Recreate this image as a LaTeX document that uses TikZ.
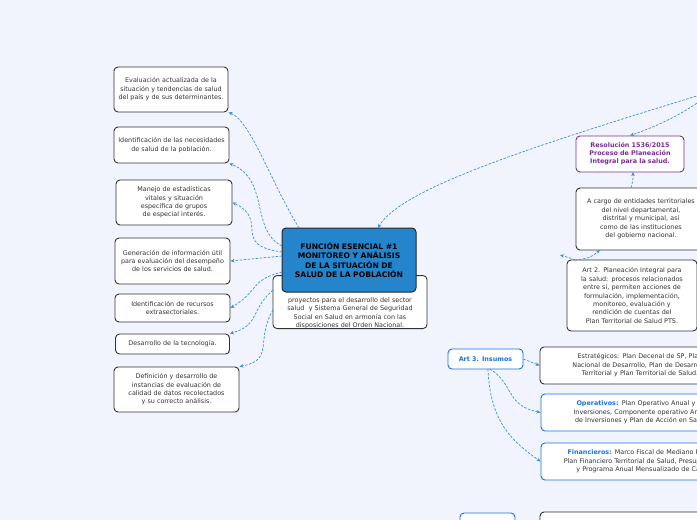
\documentclass[tikz,border=0pt]{standalone}
\usepackage{fontspec}
\setmainfont{DejaVu Sans}
\usetikzlibrary{arrows.meta}
\definecolor{bg}{HTML}{F1F4FD}
\definecolor{ln}{HTML}{3A8BE0}
\definecolor{cen}{HTML}{2585CC}
\definecolor{pur}{HTML}{7A2E96}
\definecolor{blu}{HTML}{1A73E0}
\begin{document}
\begin{tikzpicture}[x=1pt,y=-1pt,
  every node/.style={execute at begin node={\hyphenpenalty=10000\relax\exhyphenpenalty=10000\relax}},
  box/.style={draw=black!80,fill=white,rounded corners=4pt,line width=0.9pt,align=center,font=\fontsize{6.4}{8.4}\selectfont,text=black!80,inner sep=2pt},
  con/.style={draw=ln,dash pattern=on 2.5pt off 1.5pt,line width=0.7pt,-{Stealth[length=4pt,width=3.5pt]}}]
\fill[bg] (0,0) rectangle (697,520);
\clip (0,0) rectangle (697,520);
\node[box,minimum width=114,minimum height=45,text width=109] (e1) at (171,89.5) {Evaluación actualizada de la situación y tendencias de salud del país y de sus determinantes.};
\node[box,minimum width=115,minimum height=36,text width=110] (e2) at (171.5,145) {Identificación de las necesidades de salud de la población.};
\node[box,minimum width=116,minimum height=45,text width=94] (e3) at (174,202.5) {Manejo de estadísticas vitales y situación específica de grupos de especial interés.};
\node[box,minimum width=115,minimum height=46,text width=108] (e4) at (172.5,261) {Generación de información útil para evaluación del desempeño de los servicios de salud.};
\node[box,minimum width=115,minimum height=28,text width=104] (e5) at (172.5,308) {Identificación de recursos extrasectoriales.};
\node[box,minimum width=113,minimum height=20,text width=110] (e6) at (172.5,344) {Desarrollo de la tecnología.};
\node[box,minimum width=125,minimum height=45,text width=112] (e7) at (176.5,389.5) {Definición y desarrollo de instancias de evaluación de calidad de datos recolectados y su correcto análisis.};
\node[box,minimum width=154,minimum height=53,text width=148,anchor=south,text depth=4] (bk) at (350,329) {proyectos para el desarrollo del sector salud\ \ y Sistema General de Seguridad Social en Salud en armonía con las disposiciones del Orden Nacional.};
\node[draw=black!85,fill=cen,rounded corners=4pt,line width=1pt,minimum width=134,minimum height=64,text width=122,align=center,font=\fontsize{7.6}{9.4}\selectfont\bfseries,text=black] (c) at (349,260) {FUNCIÓN ESENCIAL \#1 MONITOREO Y ANÁLISIS DE LA SITUACIÓN DE SALUD DE LA POBLACIÓN};
\node[box,draw=pur,text=pur,font=\fontsize{6.4}{8}\selectfont\bfseries,minimum width=108,minimum height=36,text width=100] (r) at (630,154) {Resolución 1536/2015 Proceso de Planeación Integral para la salud.};
\node[box,minimum width=130,minimum height=62,text width=110] (ac) at (641,219) {A cargo de entidades territoriales del nivel departamental, distrital y municipal, así como de las instituciones del gobierno nacional.};
\node[box,minimum width=130,minimum height=71,text width=120] (a2) at (632,295.5) {Art 2. Planeación Integral para la salud: procesos relacionados entre sí, permiten acciones de formulación, implementación, monitoreo, evaluación y rendición de cuentas del Plan Territorial de Salud PTS.};
\node[box,draw=blu,text=blu,font=\fontsize{6.4}{8}\selectfont\bfseries,minimum width=75,minimum height=20] (a3) at (485.5,359) {Art 3. Insumos};
\node[box,minimum width=200,minimum height=37,text width=194] (s1) at (640,365.5) {Estratégicos: Plan Decenal de SP, Plan Nacional de Desarrollo, Plan de Desarrollo Territorial y Plan Territorial de Salud.};
\node[box,draw=blu,minimum width=200,minimum height=37,text width=194] (s2) at (641,412.5) {\textcolor{blu}{\bfseries Operativos:} Plan Operativo Anual y de Inversiones, Componente operativo Anual de Inversiones y Plan de Acción en Salud};
\node[box,draw=blu,minimum width=200,minimum height=37,text width=194] (s3) at (641,461.5) {\textcolor{blu}{\bfseries Financieros:} Marco Fiscal de Mediano Plazo, Plan Financiero Territorial de Salud, Presupuesto y Programa Anual Mensualizado de Caja};
\node[box,draw=blu,minimum width=55,minimum height=20] (b1) at (487.5,523) {};
\node[box,minimum width=200,minimum height=20] (b2) at (640,522) {};
\coordinate (t1) at (700,95);
\coordinate (t2) at (700,101);
\coordinate (cA) at (378,228);
\coordinate (cB) at (299,228);
\coordinate (rS) at (633,172);
\coordinate (acN) at (631,188);
\coordinate (acS) at (600,250);
\coordinate (a2N) at (575,260);
\coordinate (a2L) at (560,255);
\draw[con] (t1) .. controls (520,150) and (400,190) .. (cA);
\draw[con] (t2) .. controls (680,115) and (660,125) .. (r.north);
\draw[con] (cB) .. controls (270,180) and (250,120) .. (e1.south east);
\draw[con] (282,246) .. controls (250,230) and (270,180) .. (e2.south east);
\draw[con] (282,252) .. controls (230,245) and (270,220) .. (e3.east);
\draw[con] (282,256) -- (e4.east);
\draw[con] (282,272) .. controls (250,280) and (260,290) .. (e5.east);
\draw[con] (273,290) .. controls (250,310) and (260,325) .. (e6.north east);
\draw[con] (273,310) .. controls (255,340) and (275,360) .. (e7.north east);
\draw[con] (acN) .. controls (633,180) .. (rS);
\draw[con] (a2N) .. controls (570,258) .. (a2L);
\draw[con] (a2N) .. controls (590,258) .. (acS);
\draw[con] (a3.east) -- (s1.west);
\draw[con] (490,369) .. controls (515,385) and (505,405) .. (s2.west);
\draw[con] (488,369) .. controls (490,420) and (510,440) .. (s3.west);
\end{tikzpicture}
\end{document}
